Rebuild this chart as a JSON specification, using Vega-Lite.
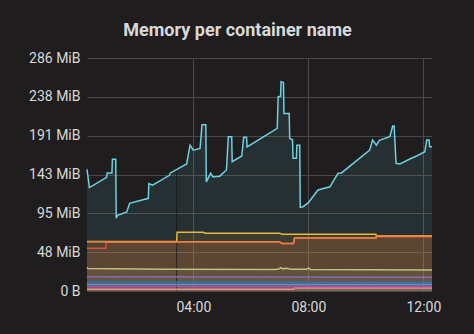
{
  "$schema": "https://vega.github.io/schema/vega-lite/v6.json",
  "width": 345,
  "height": 233,
  "autosize": {"type": "none"},
  "padding": {"left": 87, "top": 58, "right": 42, "bottom": 43},
  "background": "#1f1d1d",
  "title": {
    "text": "Memory per container name",
    "font": "Roboto",
    "fontSize": 18,
    "fontWeight": "bold",
    "color": "#d8d9da",
    "anchor": "middle",
    "frame": "group",
    "dx": -22,
    "baseline": "alphabetic",
    "offset": -3
  },
  "config": {
    "view": {"stroke": null},
    "axis": {
      "domain": false,
      "ticks": false,
      "grid": true,
      "gridColor": "#4a4848",
      "gridWidth": 1,
      "labelColor": "#d8d9da",
      "labelFont": "Roboto",
      "labelFontSize": 14,
      "labelOverlap": false,
      "title": null
    }
  },
  "datasets": {
    "seam": [
      {"t": "2024-01-01T03:25", "v": 151}
    ],
    "series": [
      {"s": "promtail", "t": "2024-01-01T00:18", "v": 2},
      {"s": "promtail", "t": "2024-01-01T07:29", "v": 2},
      {"s": "promtail", "t": "2024-01-01T07:31", "v": 3.6},
      {"s": "promtail", "t": "2024-01-01T12:18", "v": 3.6},
      {"s": "caddy", "t": "2024-01-01T00:18", "v": 5.6},
      {"s": "caddy", "t": "2024-01-01T12:18", "v": 5.6},
      {"s": "pushgateway", "t": "2024-01-01T00:18", "v": 8},
      {"s": "pushgateway", "t": "2024-01-01T12:18", "v": 8},
      {"s": "alertmanager", "t": "2024-01-01T00:18", "v": 11.2},
      {"s": "alertmanager", "t": "2024-01-01T12:18", "v": 10.6},
      {"s": "node-exporter", "t": "2024-01-01T00:18", "v": 17.4},
      {"s": "node-exporter", "t": "2024-01-01T12:18", "v": 17},
      {"s": "cadvisor", "t": "2024-01-01T00:18", "v": 29},
      {"s": "cadvisor", "t": "2024-01-01T00:20", "v": 27.6},
      {"s": "cadvisor", "t": "2024-01-01T03:00", "v": 26.6},
      {"s": "cadvisor", "t": "2024-01-01T06:50", "v": 26.4},
      {"s": "cadvisor", "t": "2024-01-01T06:58", "v": 27},
      {"s": "cadvisor", "t": "2024-01-01T07:02", "v": 28.6},
      {"s": "cadvisor", "t": "2024-01-01T07:07", "v": 27.2},
      {"s": "cadvisor", "t": "2024-01-01T07:14", "v": 27.9},
      {"s": "cadvisor", "t": "2024-01-01T07:24", "v": 26.8},
      {"s": "cadvisor", "t": "2024-01-01T07:56", "v": 26.8},
      {"s": "cadvisor", "t": "2024-01-01T08:00", "v": 28},
      {"s": "cadvisor", "t": "2024-01-01T08:05", "v": 26.4},
      {"s": "cadvisor", "t": "2024-01-01T12:18", "v": 25.8},
      {"s": "prometheus", "t": "2024-01-01T00:18", "v": 149.5},
      {"s": "prometheus", "t": "2024-01-01T00:19", "v": 145},
      {"s": "prometheus", "t": "2024-01-01T00:23", "v": 127},
      {"s": "prometheus", "t": "2024-01-01T00:59", "v": 139.6},
      {"s": "prometheus", "t": "2024-01-01T01:00", "v": 145},
      {"s": "prometheus", "t": "2024-01-01T01:10", "v": 145},
      {"s": "prometheus", "t": "2024-01-01T01:11", "v": 161.7},
      {"s": "prometheus", "t": "2024-01-01T01:18", "v": 161.7},
      {"s": "prometheus", "t": "2024-01-01T01:19", "v": 89.3},
      {"s": "prometheus", "t": "2024-01-01T01:22", "v": 93},
      {"s": "prometheus", "t": "2024-01-01T01:41", "v": 97},
      {"s": "prometheus", "t": "2024-01-01T01:47", "v": 107.7},
      {"s": "prometheus", "t": "2024-01-01T02:26", "v": 113.8},
      {"s": "prometheus", "t": "2024-01-01T02:27", "v": 132},
      {"s": "prometheus", "t": "2024-01-01T02:35", "v": 130},
      {"s": "prometheus", "t": "2024-01-01T03:10", "v": 142},
      {"s": "prometheus", "t": "2024-01-01T03:12", "v": 145},
      {"s": "prometheus", "t": "2024-01-01T03:46", "v": 156},
      {"s": "prometheus", "t": "2024-01-01T03:53", "v": 179},
      {"s": "prometheus", "t": "2024-01-01T04:00", "v": 173},
      {"s": "prometheus", "t": "2024-01-01T04:14", "v": 175},
      {"s": "prometheus", "t": "2024-01-01T04:18", "v": 204},
      {"s": "prometheus", "t": "2024-01-01T04:26", "v": 204},
      {"s": "prometheus", "t": "2024-01-01T04:27", "v": 134},
      {"s": "prometheus", "t": "2024-01-01T04:36", "v": 144.5},
      {"s": "prometheus", "t": "2024-01-01T04:41", "v": 140},
      {"s": "prometheus", "t": "2024-01-01T04:55", "v": 141},
      {"s": "prometheus", "t": "2024-01-01T05:09", "v": 148.6},
      {"s": "prometheus", "t": "2024-01-01T05:13", "v": 189.5},
      {"s": "prometheus", "t": "2024-01-01T05:20", "v": 189.5},
      {"s": "prometheus", "t": "2024-01-01T05:21", "v": 158.8},
      {"s": "prometheus", "t": "2024-01-01T05:41", "v": 165.8},
      {"s": "prometheus", "t": "2024-01-01T05:45", "v": 188.7},
      {"s": "prometheus", "t": "2024-01-01T05:51", "v": 188.7},
      {"s": "prometheus", "t": "2024-01-01T05:52", "v": 177},
      {"s": "prometheus", "t": "2024-01-01T06:55", "v": 199.8},
      {"s": "prometheus", "t": "2024-01-01T06:57", "v": 238.6},
      {"s": "prometheus", "t": "2024-01-01T07:02", "v": 239},
      {"s": "prometheus", "t": "2024-01-01T07:03", "v": 257},
      {"s": "prometheus", "t": "2024-01-01T07:08", "v": 256},
      {"s": "prometheus", "t": "2024-01-01T07:09", "v": 218},
      {"s": "prometheus", "t": "2024-01-01T07:20", "v": 218},
      {"s": "prometheus", "t": "2024-01-01T07:21", "v": 187.5},
      {"s": "prometheus", "t": "2024-01-01T07:27", "v": 185.4},
      {"s": "prometheus", "t": "2024-01-01T07:28", "v": 163},
      {"s": "prometheus", "t": "2024-01-01T07:35", "v": 163},
      {"s": "prometheus", "t": "2024-01-01T07:36", "v": 179},
      {"s": "prometheus", "t": "2024-01-01T07:42", "v": 179},
      {"s": "prometheus", "t": "2024-01-01T07:43", "v": 102.8},
      {"s": "prometheus", "t": "2024-01-01T07:49", "v": 103.5},
      {"s": "prometheus", "t": "2024-01-01T08:00", "v": 108.4},
      {"s": "prometheus", "t": "2024-01-01T08:20", "v": 124},
      {"s": "prometheus", "t": "2024-01-01T08:45", "v": 128},
      {"s": "prometheus", "t": "2024-01-01T08:51", "v": 134},
      {"s": "prometheus", "t": "2024-01-01T09:02", "v": 144.5},
      {"s": "prometheus", "t": "2024-01-01T09:09", "v": 145},
      {"s": "prometheus", "t": "2024-01-01T10:08", "v": 173},
      {"s": "prometheus", "t": "2024-01-01T10:14", "v": 185.4},
      {"s": "prometheus", "t": "2024-01-01T10:22", "v": 179},
      {"s": "prometheus", "t": "2024-01-01T10:28", "v": 185},
      {"s": "prometheus", "t": "2024-01-01T10:50", "v": 189.5},
      {"s": "prometheus", "t": "2024-01-01T10:56", "v": 202.6},
      {"s": "prometheus", "t": "2024-01-01T10:59", "v": 202.6},
      {"s": "prometheus", "t": "2024-01-01T11:03", "v": 156.8},
      {"s": "prometheus", "t": "2024-01-01T11:11", "v": 156},
      {"s": "prometheus", "t": "2024-01-01T11:35", "v": 163},
      {"s": "prometheus", "t": "2024-01-01T11:46", "v": 165.8},
      {"s": "prometheus", "t": "2024-01-01T12:03", "v": 171},
      {"s": "prometheus", "t": "2024-01-01T12:07", "v": 185.4},
      {"s": "prometheus", "t": "2024-01-01T12:12", "v": 185.4},
      {"s": "prometheus", "t": "2024-01-01T12:13", "v": 177},
      {"s": "prometheus", "t": "2024-01-01T12:18", "v": 177},
      {"s": "grafana", "t": "2024-01-01T00:18", "v": 52.4},
      {"s": "grafana", "t": "2024-01-01T00:57", "v": 52.4},
      {"s": "grafana", "t": "2024-01-01T00:58", "v": 59.8},
      {"s": "grafana", "t": "2024-01-01T04:20", "v": 60.2},
      {"s": "grafana", "t": "2024-01-01T07:00", "v": 60.2},
      {"s": "grafana", "t": "2024-01-01T07:05", "v": 58.2},
      {"s": "grafana", "t": "2024-01-01T07:29", "v": 58.2},
      {"s": "grafana", "t": "2024-01-01T07:31", "v": 65},
      {"s": "grafana", "t": "2024-01-01T10:22", "v": 65},
      {"s": "grafana", "t": "2024-01-01T10:23", "v": 66.6},
      {"s": "grafana", "t": "2024-01-01T12:18", "v": 66.6},
      {"s": "nginx", "t": "2024-01-01T00:18", "v": 60.8},
      {"s": "nginx", "t": "2024-01-01T03:25", "v": 60.8},
      {"s": "nginx", "t": "2024-01-01T03:26", "v": 72},
      {"s": "nginx", "t": "2024-01-01T04:20", "v": 72},
      {"s": "nginx", "t": "2024-01-01T04:25", "v": 71},
      {"s": "nginx", "t": "2024-01-01T07:00", "v": 71},
      {"s": "nginx", "t": "2024-01-01T07:05", "v": 69.8},
      {"s": "nginx", "t": "2024-01-01T10:21", "v": 69.8},
      {"s": "nginx", "t": "2024-01-01T10:22", "v": 67.5},
      {"s": "nginx", "t": "2024-01-01T12:18", "v": 67.5},
      {"s": "loki", "t": "2024-01-01T00:18", "v": 60.4},
      {"s": "loki", "t": "2024-01-01T07:00", "v": 60.4},
      {"s": "loki", "t": "2024-01-01T07:05", "v": 58.4},
      {"s": "loki", "t": "2024-01-01T07:29", "v": 58.4},
      {"s": "loki", "t": "2024-01-01T07:31", "v": 65},
      {"s": "loki", "t": "2024-01-01T10:21", "v": 65},
      {"s": "loki", "t": "2024-01-01T10:22", "v": 67.5},
      {"s": "loki", "t": "2024-01-01T12:18", "v": 67.5}
    ]
  },
  "encoding": {
    "x": {
      "field": "t",
      "type": "temporal",
      "scale": {"domain": [
        {"year": 2024, "month": 1, "date": 1, "hours": 0, "minutes": 18},
        {"year": 2024, "month": 1, "date": 1, "hours": 12, "minutes": 18}
      ]},
      "axis": {
        "format": "%H:%M",
        "values": [
          {"year": 2024, "month": 1, "date": 1, "hours": 4},
          {"year": 2024, "month": 1, "date": 1, "hours": 8},
          {"year": 2024, "month": 1, "date": 1, "hours": 12}
        ],
        "labelPadding": 9,
        "labelFlush": false
      }
    },
    "y": {
      "field": "v",
      "type": "quantitative",
      "stack": null,
      "scale": {"domain": [0, 286.1], "nice": false, "zero": true},
      "axis": {
        "values": [0, 47.68, 95.37, 143.05, 190.73, 238.42, 286.1],
        "labelExpr": "datum.value == 0 ? '0 B' : format(datum.value, '.0f') + ' MiB'",
        "labelPadding": 7
      }
    },
    "color": {
      "field": "s",
      "type": "nominal",
      "legend": null,
      "scale": {
        "domain": ["promtail", "caddy", "pushgateway", "alertmanager", "node-exporter", "cadvisor", "prometheus", "grafana", "nginx", "loki"],
        "range": ["#e8927c", "#ba43a9", "#5195ce", "#1f78c1", "#806eb7", "#b8c47f", "#6ed0e0", "#e24d42", "#eab839", "#ef843c"]
      }
    }
  },
  "layer": [
    {
      "data": {"name": "series"},
      "mark": {"type": "area", "fillOpacity": 0.1}
    },
    {
      "data": {"name": "seam"},
      "mark": {"type": "rule", "strokeWidth": 1, "opacity": 0.7},
      "encoding": {
        "y2": {"datum": 0},
        "color": {"value": "#161515"}
      }
    },
    {
      "data": {"name": "series"},
      "mark": {"type": "line", "strokeWidth": 1.5}
    }
  ]
}
